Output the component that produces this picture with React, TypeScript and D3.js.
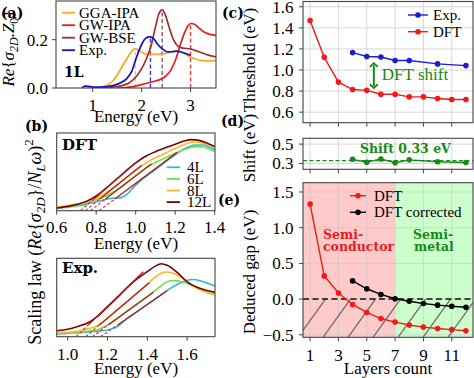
import React from 'react';
import * as d3 from 'd3';

type P = [number, number];

// ---------------- Panel (a) data ----------------
const aTicksX = [1, 2, 3];
const aTicksY = [0.0, 0.2];
const aNames = ['GGA-IPA', 'GW-IPA', 'GW-BSE', 'Exp.'];
const aColors = ['#ffa51f', '#ec1a1a', '#a32f2f', '#1212c4'];
const ggaIpa: P[] = [[0.9, 0], [1.1, 0.002], [1.2, 0.005], [1.3, 0.012], [1.4, 0.027], [1.5, 0.054], [1.6, 0.088], [1.7, 0.122], [1.78, 0.148], [1.87, 0.162], [1.95, 0.155], [2.05, 0.143], [2.15, 0.139], [2.3, 0.139], [2.5, 0.143], [2.7, 0.152], [2.8, 0.15], [2.9, 0.14], [3.0, 0.128], [3.1, 0.12], [3.25, 0.113], [3.4, 0.112], [3.53, 0.115]];
const gwIpa: P[] = [[1.5, 0], [1.8, 0.005], [2.0, 0.014], [2.2, 0.025], [2.4, 0.037], [2.5, 0.05], [2.6, 0.075], [2.7, 0.12], [2.8, 0.185], [2.88, 0.23], [2.95, 0.258], [3.0, 0.267], [3.07, 0.265], [3.15, 0.252], [3.25, 0.235], [3.35, 0.225], [3.45, 0.22], [3.53, 0.219]];
const gwBse: P[] = [[1.0, 0], [1.4, 0.004], [1.6, 0.01], [1.75, 0.022], [1.9, 0.05], [2.0, 0.08], [2.1, 0.122], [2.2, 0.18], [2.28, 0.25], [2.35, 0.305], [2.42, 0.323], [2.48, 0.305], [2.55, 0.26], [2.65, 0.2], [2.75, 0.172], [2.85, 0.165], [3.0, 0.162], [3.1, 0.155], [3.2, 0.148], [3.35, 0.137], [3.53, 0.128]];
const expA: P[] = [[0.78, 0], [0.85, 0.008], [0.92, 0.007], [1.0, 0.004], [1.15, 0.004], [1.3, 0.006], [1.45, 0.012], [1.6, 0.025], [1.7, 0.04], [1.8, 0.07], [1.9, 0.13], [2.0, 0.18], [2.08, 0.205], [2.17, 0.213], [2.25, 0.203], [2.33, 0.18], [2.42, 0.162], [2.52, 0.15], [2.62, 0.15], [2.72, 0.153], [2.82, 0.148], [2.92, 0.142], [3.0, 0.135]];
const aPeakE = [1.87, 2.18, 2.42, 3.0];
const aPeakV = [0.162, 0.213, 0.323, 0.267];
const aPeakColors = ['#f6c27e', '#3434dc', '#8f5868', '#e63c3c'];

// ---------------- Panel (b) data ----------------
const bNames = ['4L', '6L', '8L', '12L'];
const bColors = ['#2bb8e2', '#70e04c', '#ffb52a', '#7c0000'];
const dftTicks = [0.6, 0.8, 1.0, 1.2, 1.4];
const expTicks = [1.0, 1.2, 1.4, 1.6];
const dft4L: P[] = [[0.6, 0.03], [0.7, 0.06], [0.75, 0.085], [0.8, 0.115], [0.85, 0.145], [0.88, 0.16], [0.92, 0.165], [0.95, 0.2], [1.0, 0.33], [1.1, 0.53], [1.2, 0.72], [1.25, 0.8], [1.3, 0.845], [1.34, 0.845], [1.37, 0.82], [1.4, 0.79]];
const dft6L: P[] = [[0.6, 0.04], [0.7, 0.07], [0.75, 0.1], [0.8, 0.14], [0.85, 0.19], [0.9, 0.26], [0.95, 0.35], [1.0, 0.45], [1.05, 0.545], [1.1, 0.62], [1.15, 0.68], [1.2, 0.74], [1.25, 0.79], [1.3, 0.825], [1.34, 0.82], [1.37, 0.795], [1.4, 0.765]];
const dft8L: P[] = [[0.6, 0.045], [0.7, 0.085], [0.75, 0.115], [0.8, 0.165], [0.85, 0.23], [0.9, 0.32], [0.95, 0.42], [1.0, 0.52], [1.05, 0.61], [1.1, 0.68], [1.15, 0.74], [1.2, 0.8], [1.25, 0.855], [1.29, 0.88], [1.33, 0.875], [1.37, 0.85], [1.4, 0.815]];
const dft12L: P[] = [[0.6, 0.035], [0.7, 0.08], [0.75, 0.12], [0.8, 0.19], [0.85, 0.29], [0.9, 0.4], [0.95, 0.51], [1.0, 0.615], [1.05, 0.7], [1.1, 0.76], [1.15, 0.81], [1.2, 0.855], [1.25, 0.9], [1.28, 0.915], [1.32, 0.905], [1.36, 0.87], [1.4, 0.825]];
const exp4L: P[] = [[0.945, 0.035], [1.0, 0.04], [1.1, 0.06], [1.2, 0.085], [1.25, 0.13], [1.3, 0.235], [1.35, 0.32], [1.4, 0.41], [1.45, 0.5], [1.5, 0.59], [1.55, 0.665], [1.6, 0.72], [1.63, 0.73], [1.67, 0.71], [1.7, 0.685], [1.74, 0.645]];
const exp6L: P[] = [[0.945, 0.04], [1.0, 0.045], [1.1, 0.07], [1.15, 0.09], [1.2, 0.15], [1.25, 0.236], [1.3, 0.33], [1.35, 0.42], [1.4, 0.51], [1.45, 0.61], [1.5, 0.7], [1.53, 0.715], [1.57, 0.705], [1.6, 0.68], [1.65, 0.62], [1.7, 0.57], [1.74, 0.53]];
const exp8L: P[] = [[0.945, 0.045], [1.0, 0.055], [1.05, 0.07], [1.1, 0.1], [1.15, 0.14], [1.2, 0.235], [1.25, 0.345], [1.3, 0.45], [1.35, 0.56], [1.4, 0.67], [1.45, 0.78], [1.49, 0.825], [1.53, 0.81], [1.58, 0.74], [1.63, 0.65], [1.68, 0.58], [1.74, 0.54]];
const exp12L: P[] = [[0.945, 0.075], [1.0, 0.095], [1.05, 0.13], [1.1, 0.175], [1.15, 0.26], [1.2, 0.38], [1.25, 0.5], [1.3, 0.63], [1.35, 0.74], [1.4, 0.83], [1.44, 0.9], [1.47, 0.93], [1.5, 0.91], [1.55, 0.82], [1.6, 0.7], [1.65, 0.63], [1.7, 0.59], [1.74, 0.565]];
const dftFitE0 = [0.815, 0.77, 0.745, 0.72];
const dftFitSlope = [1.9, 1.95, 2.05, 2.2];
const dftFitEnd = [1.21, 1.08, 1.03, 1.0];
const expFitE0 = [1.165, 1.123, 1.09, 1.042];
const expFitSlope = [1.75, 1.85, 2.15, 2.45];
const expFitEnd = [1.5, 1.43, 1.41, 1.38];
const fitDashTop = 0.15;

// ---------------- Panels (c)(d)(e) data ----------------
const layers = [1, 2, 3, 4, 5, 6, 7, 8, 9, 10, 11, 12];
const layerTicks = [1, 3, 5, 7, 9, 11];
const thresholdDft = [1.47, 1.12, 0.885, 0.815, 0.807, 0.77, 0.77, 0.745, 0.745, 0.73, 0.72, 0.72];
const expLayers = [4, 5, 6, 7, 8, 10, 12];
const thresholdExp = [1.165, 1.128, 1.123, 1.09, 1.09, 1.058, 1.042];
const cTicksY = [0.6, 0.8, 1.0, 1.2, 1.4, 1.6];
const shiftValues = [0.343, 0.313, 0.347, 0.308, 0.338, 0.318, 0.31];
const shiftMean = 0.33;
const dTicksY = [0.3, 0.5];
const gapDft = [1.33, 0.325, 0.085, -0.075, -0.187, -0.272, -0.322, -0.362, -0.392, -0.412, -0.428, -0.443];
const corrLayers = [4, 5, 6, 7, 8, 9, 10, 11, 12];
const gapCorr = [0.255, 0.145, 0.065, 0.005, -0.03, -0.062, -0.085, -0.1, -0.115];
const eTicksY = [-0.5, 0.0, 0.5, 1.0, 1.5];
const semimetalFrom = 7;

const SERIF = "'Liberation Serif', 'Times New Roman', serif";
const BOLD = "'DejaVu Serif', serif";
const FRAME = '#444';
const GRID = '#d4d4d4';
const RED = '#f01a1a';
const BLUE = '#1c1cd0';
const GREEN = '#178a17';
const TICK = 17;
const LEG = 15;

const fmt = (v: number) => v.toFixed(1).replace('-', '\u2212');

function Frame({ x0, y0, x1, y1 }: { x0: number; y0: number; x1: number; y1: number }) {
  return <rect x={x0} y={y0} width={x1 - x0} height={y1 - y0} fill="none" stroke={FRAME} strokeWidth={1.1} />;
}

export default function App() {
  // ---- scales ----
  const ax = d3.scaleLinear().domain([0.25, 3.52]).range([56, 216]);
  const ay = d3.scaleLinear().domain([0, 0.36]).range([88, 1]);
  const b1x = d3.scaleLinear().domain([0.6, 1.4]).range([56.7, 214.7]);
  const b1y = d3.scaleLinear().domain([0, 1]).range([210.7, 133]);
  const b2x = d3.scaleLinear().domain([0.945, 1.74]).range([56.7, 215]);
  const b2y = d3.scaleLinear().domain([0, 1]).range([336.7, 258.3]);
  const rx = d3.scaleLinear().domain([0.5, 12.5]).range([303, 473]);
  const cy = d3.scaleLinear().domain([0.5, 1.65]).range([122.7, 1.5]);
  const dy = d3.scaleLinear().domain([0.24, 0.56]).range([169.3, 138.3]);
  const ey = d3.scaleLinear().domain([-0.535, 1.63]).range([337.3, 182.7]);

  const mk = (sx: d3.ScaleLinear<number, number>, sy: d3.ScaleLinear<number, number>) =>
    d3.line<P>().x((d) => sx(d[0])).y((d) => sy(d[1])).curve(d3.curveMonotoneX);
  const mkLin = (sx: d3.ScaleLinear<number, number>, sy: d3.ScaleLinear<number, number>) =>
    d3.line<P>().x((d) => sx(d[0])).y((d) => sy(d[1]));

  const lineA = mk(ax, ay);
  const lineB1 = mk(b1x, b1y);
  const lineB2 = mk(b2x, b2y);
  const linB1 = mkLin(b1x, b1y);
  const linB2 = mkLin(b2x, b2y);
  const lineC = mkLin(rx, cy);
  const lineD = mkLin(rx, dy);
  const lineE = mkLin(rx, ey);

  const aSeries = [ggaIpa, gwIpa, gwBse, expA];
  const dftSeries = [dft4L, dft6L, dft8L, dft12L];
  const expSeries = [exp4L, exp6L, exp8L, exp12L];

  const fitParts = (e0: number, s: number, ee: number) => {
    const es = e0 + fitDashTop / s;
    const dash: P[] = [[e0, 0], [es, fitDashTop]];
    const solid: P[] = [[es, fitDashTop], [ee, (ee - e0) * s]];
    return { dash, solid };
  };

  const C = { x0: 303, x1: 473, y0: 1.5, y1: 122.7 };
  const D = { x0: 303, x1: 473, y0: 138.3, y1: 169.3 };
  const E = { x0: 303, x1: 473, y0: 182.7, y1: 337.3 };

  const zeroY = ey(0);
  const hatchSp = 25;
  const hatchDx = (E.y1 - zeroY) * 0.72;
  const hatchStarts = d3.range(E.x0 - 80, E.x1 + 10, hatchSp);

  const xTickMarks = (y: number) =>
    layerTicks.map((t) => <line key={t} x1={rx(t)} x2={rx(t)} y1={y} y2={y + 4} stroke={FRAME} strokeWidth={1} />);
  const vGrid = (y0: number, y1: number) =>
    layerTicks.map((t) => <line key={'g' + t} x1={rx(t)} x2={rx(t)} y1={y0} y2={y1} stroke={GRID} strokeWidth={0.9} />);

  return (
    <svg width={474} height={378} style={{ position: 'absolute', left: 0, top: 0, background: '#fff' }} fontFamily={SERIF}>
      <defs>
        <clipPath id="clipA"><rect x={56} y={1} width={160} height={87} /></clipPath>
        <clipPath id="clipB1"><rect x={56.7} y={133} width={158.3} height={77.7} /></clipPath>
        <clipPath id="clipB2"><rect x={56.7} y={258.3} width={158.3} height={78.4} /></clipPath>
        <clipPath id="clipEneg"><rect x={E.x0} y={zeroY} width={E.x1 - E.x0} height={E.y1 - zeroY} /></clipPath>
      </defs>

      {/* ================= Panel (a) ================= */}
      <g clipPath="url(#clipA)">
        {aPeakE.map((e, i) => (
          <line key={'pk' + i} x1={ax(e)} x2={ax(e)} y1={ay(0)} y2={ay(aPeakV[i])} stroke={aPeakColors[i]} strokeWidth={1.4} strokeDasharray="4,2.5" />
        ))}
        {aSeries.map((s, i) => (
          <path key={'a' + i} d={lineA(s) || ''} fill="none" stroke={aColors[i]} strokeWidth={1.7} />
        ))}
      </g>
      <Frame x0={56} y0={1} x1={216} y1={88} />
      {aTicksX.map((t) => (
        <g key={'ax' + t}>
          <line x1={ax(t)} x2={ax(t)} y1={88} y2={92} stroke={FRAME} />
          <text x={ax(t)} y={111} fontSize={TICK} textAnchor="middle">{t}</text>
        </g>
      ))}
      {aTicksY.map((t) => (
        <g key={'ay' + t}>
          <line x1={52} x2={56} y1={ay(t)} y2={ay(t)} stroke={FRAME} />
          <text x={48} y={ay(t) + 6} fontSize={TICK} textAnchor="end">{fmt(t)}</text>
        </g>
      ))}
      {aNames.map((n, i) => (
        <g key={'al' + i}>
          <line x1={62} x2={75} y1={12.7 + i * 12.5} y2={12.7 + i * 12.5} stroke={aColors[i]} strokeWidth={1.8} />
          <text x={79} y={12.7 + i * 12.5 + 5} fontSize={LEG}>{n}</text>
        </g>
      ))}
      <text x={64} y={77} fontFamily={BOLD} fontWeight="bold" fontSize={14}>1L</text>
      <text x={136} y={122} fontSize={TICK} textAnchor="middle">Energy (eV)</text>
      <text x={1} y={18} fontFamily={BOLD} fontWeight="bold" fontSize={14}>(a)</text>
      <text transform="translate(14,48) rotate(-90)" textAnchor="middle" fontSize={17}>
        <tspan fontStyle="italic">Re</tspan>
        <tspan>{'{'}</tspan>
        <tspan fontStyle="italic">σ</tspan>
        <tspan fontStyle="italic" fontSize={12} dy={4}>2D</tspan>
        <tspan fontStyle="italic" dy={-4}>.Z</tspan>
        <tspan fontSize={12} dy={4}>0</tspan>
        <tspan dy={-4}>{'}'}</tspan>
      </text>

      {/* ================= Panel (b) DFT ================= */}
      <g clipPath="url(#clipB1)">
        {dftSeries.map((s, i) => (
          <path key={'b1' + i} d={lineB1(s) || ''} fill="none" stroke={bColors[i]} strokeWidth={1.6} />
        ))}
        {dftFitE0.map((e0, i) => {
          const f = fitParts(e0, dftFitSlope[i], dftFitEnd[i]);
          return (
            <g key={'f1' + i}>
              <path d={linB1(f.dash) || ''} stroke="#ff2020" strokeWidth={1.1} strokeDasharray="3,2" fill="none" />
              <path d={linB1(f.solid) || ''} stroke="#b01c1c" strokeWidth={1.3} fill="none" />
            </g>
          );
        })}
      </g>
      <Frame x0={56.7} y0={133} x1={215} y1={210.7} />
      {dftTicks.map((t) => (
        <g key={'b1x' + t}>
          <line x1={b1x(t)} x2={b1x(t)} y1={210.7} y2={214.7} stroke={FRAME} />
          <text x={b1x(t)} y={233} fontSize={TICK} textAnchor="middle">{fmt(t)}</text>
        </g>
      ))}
      {bNames.map((n, i) => (
        <g key={'bl' + i}>
          <line x1={166.7} x2={180} y1={167.3 + i * 11.6} y2={167.3 + i * 11.6} stroke={bColors[i]} strokeWidth={1.8} />
          <text x={187} y={167.3 + i * 11.6 + 5} fontSize={LEG}>{n}</text>
        </g>
      ))}
      <text x={62} y={150} fontFamily={BOLD} fontWeight="bold" fontSize={15}>DFT</text>
      <text x={136} y={249} fontSize={TICK} textAnchor="middle">Energy (eV)</text>
      <text x={25} y={131} fontFamily={BOLD} fontWeight="bold" fontSize={14}>(b)</text>

      {/* ================= Panel (b) Exp ================= */}
      <g clipPath="url(#clipB2)">
        {expSeries.map((s, i) => (
          <path key={'b2' + i} d={lineB2(s) || ''} fill="none" stroke={bColors[i]} strokeWidth={1.6} />
        ))}
        {expFitE0.map((e0, i) => {
          const f = fitParts(e0, expFitSlope[i], expFitEnd[i]);
          return (
            <g key={'f2' + i}>
              <path d={linB2(f.dash) || ''} stroke="#ff2020" strokeWidth={1.1} strokeDasharray="3,2" fill="none" />
              <path d={linB2(f.solid) || ''} stroke="#b01c1c" strokeWidth={1.3} fill="none" />
            </g>
          );
        })}
      </g>
      <Frame x0={56.7} y0={258.3} x1={215} y1={336.7} />
      {expTicks.map((t) => (
        <g key={'b2x' + t}>
          <line x1={b2x(t)} x2={b2x(t)} y1={336.7} y2={340.7} stroke={FRAME} />
          <text x={b2x(t)} y={360} fontSize={TICK} textAnchor="middle">{fmt(t)}</text>
        </g>
      ))}
      <text x={62} y={273} fontFamily={BOLD} fontWeight="bold" fontSize={15}>Exp.</text>
      <text x={136} y={374} fontSize={TICK} textAnchor="middle">Energy (eV)</text>
      <text transform="translate(41,242) rotate(-90)" textAnchor="middle" fontSize={18}>
        <tspan>Scaling law (</tspan>
        <tspan fontStyle="italic">Re</tspan>
        <tspan>{'{'}</tspan>
        <tspan fontStyle="italic">σ</tspan>
        <tspan fontStyle="italic" fontSize={13} dy={4}>2D</tspan>
        <tspan dy={-4}>{'}/'}</tspan>
        <tspan fontStyle="italic">N</tspan>
        <tspan fontStyle="italic" fontSize={13} dy={4}>L</tspan>
        <tspan fontStyle="italic" dy={-4}>ω</tspan>
        <tspan>)</tspan>
        <tspan fontSize={13} dy={-8}>2</tspan>
      </text>

      {/* ================= Panel (c) ================= */}
      {vGrid(C.y0, C.y1)}
      {cTicksY.map((t) => (
        <line key={'cg' + t} x1={C.x0} x2={C.x1} y1={cy(t)} y2={cy(t)} stroke={GRID} strokeWidth={0.9} />
      ))}
      <path d={lineC(layers.map((l, i) => [l, thresholdDft[i]] as P)) || ''} fill="none" stroke={RED} strokeWidth={1.4} />
      {layers.map((l, i) => <circle key={'cd' + i} cx={rx(l)} cy={cy(thresholdDft[i])} r={2.8} fill={RED} />)}
      <path d={lineC(expLayers.map((l, i) => [l, thresholdExp[i]] as P)) || ''} fill="none" stroke={BLUE} strokeWidth={1.4} />
      {expLayers.map((l, i) => <circle key={'ce' + i} cx={rx(l)} cy={cy(thresholdExp[i])} r={2.8} fill={BLUE} />)}
      <Frame {...C} />
      {xTickMarks(C.y1)}
      {cTicksY.map((t) => (
        <g key={'cy' + t}>
          <line x1={C.x0 - 4} x2={C.x0} y1={cy(t)} y2={cy(t)} stroke={FRAME} />
          <text x={C.x0 - 9.5} y={cy(t) + 6} fontSize={TICK} textAnchor="end">{fmt(t)}</text>
        </g>
      ))}
      {['Exp.', 'DFT'].map((n, i) => (
        <g key={'cl' + i}>
          <line x1={408} x2={428} y1={15 + i * 16.7} y2={15 + i * 16.7} stroke={i === 0 ? BLUE : RED} strokeWidth={1.4} />
          <circle cx={418} cy={15 + i * 16.7} r={2.8} fill={i === 0 ? BLUE : RED} />
          <text x={433} y={15 + i * 16.7 + 5} fontSize={LEG}>{n}</text>
        </g>
      ))}
      {/* DFT shift arrow */}
      <line x1={rx(5.5)} x2={rx(5.5)} y1={cy(1.045)} y2={cy(0.85)} stroke={GREEN} strokeWidth={2} />
      <path d={`M${rx(5.5) - 4},${cy(1.03)} L${rx(5.5)},${cy(1.065)} L${rx(5.5) + 4},${cy(1.03)}`} fill="none" stroke={GREEN} strokeWidth={1.8} />
      <path d={`M${rx(5.5) - 4},${cy(0.865)} L${rx(5.5)},${cy(0.83)} L${rx(5.5) + 4},${cy(0.865)}`} fill="none" stroke={GREEN} strokeWidth={1.8} />
      <text x={rx(5.5) + 8} y={cy(0.955) + 5} fontSize={17} fill={GREEN}>DFT shift</text>
      <text x={222} y={18} fontFamily={BOLD} fontWeight="bold" fontSize={14}>(c)</text>
      <text transform="translate(255,60) rotate(-90)" textAnchor="middle" fontSize={TICK}>Threshold (eV)</text>

      {/* ================= Panel (d) ================= */}
      {vGrid(D.y0, D.y1)}
      {dTicksY.map((t) => (
        <line key={'dg' + t} x1={D.x0} x2={D.x1} y1={dy(t)} y2={dy(t)} stroke={GRID} strokeWidth={0.9} />
      ))}
      <line x1={D.x0} x2={D.x1} y1={dy(shiftMean)} y2={dy(shiftMean)} stroke={GREEN} strokeWidth={1.1} strokeDasharray="4,2.5" />
      <path d={lineD(expLayers.map((l, i) => [l, shiftValues[i]] as P)) || ''} fill="none" stroke={GREEN} strokeWidth={1.3} />
      {expLayers.map((l, i) => <circle key={'ds' + i} cx={rx(l)} cy={dy(shiftValues[i])} r={2.8} fill={GREEN} />)}
      <Frame {...D} />
      {xTickMarks(D.y1)}
      {dTicksY.map((t) => (
        <g key={'dy' + t}>
          <line x1={D.x0 - 4} x2={D.x0} y1={dy(t)} y2={dy(t)} stroke={FRAME} />
          <text x={D.x0 - 9.5} y={dy(t) + 6} fontSize={TICK} textAnchor="end">{fmt(t)}</text>
        </g>
      ))}
      <text x={360} y={153} fontFamily={BOLD} fontWeight="bold" fontSize={12.5} fill={GREEN}>Shift 0.33 eV</text>
      <text x={221} y={126} fontFamily={BOLD} fontWeight="bold" fontSize={14}>(d)</text>
      <text transform="translate(255,148) rotate(-90)" textAnchor="middle" fontSize={TICK}>Shift (eV)</text>

      {/* ================= Panel (e) ================= */}
      <rect x={E.x0} y={E.y0} width={rx(semimetalFrom) - E.x0} height={E.y1 - E.y0} fill="#ffcaca" />
      <rect x={rx(semimetalFrom)} y={E.y0} width={E.x1 - rx(semimetalFrom)} height={E.y1 - E.y0} fill="#ccffcc" />
      {layerTicks.map((t) => (
        <line key={'eg' + t} x1={rx(t)} x2={rx(t)} y1={E.y0} y2={E.y1} stroke="#c8c8c8" strokeOpacity={0.7} strokeWidth={0.9} />
      ))}
      {eTicksY.map((t) => (
        <line key={'egy' + t} x1={E.x0} x2={E.x1} y1={ey(t)} y2={ey(t)} stroke="#c8c8c8" strokeOpacity={0.7} strokeWidth={0.9} />
      ))}
      <g clipPath="url(#clipEneg)">
        {hatchStarts.map((s, i) => (
          <line key={'h' + i} x1={s} y1={E.y1} x2={s + hatchDx} y2={zeroY} stroke="#6e6e6e" strokeWidth={1.3} />
        ))}
      </g>
      <line x1={E.x0} x2={E.x1} y1={zeroY} y2={zeroY} stroke="#111" strokeWidth={1.5} strokeDasharray="6,3.5" />
      <path d={lineE(layers.map((l, i) => [l, gapDft[i]] as P)) || ''} fill="none" stroke={RED} strokeWidth={1.4} />
      {layers.map((l, i) => <circle key={'ed' + i} cx={rx(l)} cy={ey(gapDft[i])} r={2.8} fill={RED} />)}
      <path d={lineE(corrLayers.map((l, i) => [l, gapCorr[i]] as P)) || ''} fill="none" stroke="#000" strokeWidth={1.4} />
      {corrLayers.map((l, i) => <circle key={'ec' + i} cx={rx(l)} cy={ey(gapCorr[i])} r={2.8} fill="#000" />)}
      <Frame {...E} />
      {layerTicks.map((t) => (
        <g key={'ex' + t}>
          <line x1={rx(t)} x2={rx(t)} y1={E.y1} y2={E.y1 + 4} stroke={FRAME} />
          <text x={rx(t)} y={361} fontSize={TICK} textAnchor="middle">{t}</text>
        </g>
      ))}
      {eTicksY.map((t) => (
        <g key={'ey' + t}>
          <line x1={E.x0 - 4} x2={E.x0} y1={ey(t)} y2={ey(t)} stroke={FRAME} />
          <text x={E.x0 - 9.5} y={ey(t) + 6} fontSize={TICK} textAnchor="end">{fmt(t)}</text>
        </g>
      ))}
      {['DFT', 'DFT corrected'].map((n, i) => (
        <g key={'el' + i}>
          <line x1={350} x2={366} y1={195.7 + i * 16.6} y2={195.7 + i * 16.6} stroke={i === 0 ? RED : '#000'} strokeWidth={1.4} />
          <circle cx={358} cy={195.7 + i * 16.6} r={2.8} fill={i === 0 ? RED : '#000'} />
          <text x={374} y={195.7 + i * 16.6 + 5} fontSize={LEG}>{n}</text>
        </g>
      ))}
      <text fontFamily={BOLD} fontWeight="bold" fontSize={12.5} fill="#e81c1c">
        <tspan x={323} y={238.5}>Semi-</tspan>
        <tspan x={323} y={250.5}>conductor</tspan>
      </text>
      <text fontFamily={BOLD} fontWeight="bold" fontSize={12.5} fill={GREEN}>
        <tspan x={413} y={238.5}>Semi-</tspan>
        <tspan x={414} y={250.5}>metal</tspan>
      </text>
      <text x={388} y={374} fontSize={TICK} textAnchor="middle">Layers count</text>
      <text x={218} y={205} fontFamily={BOLD} fontWeight="bold" fontSize={14}>(e)</text>
      <text transform="translate(255,272) rotate(-90)" textAnchor="middle" fontSize={TICK}>Deduced gap (eV)</text>
    </svg>
  );
}
